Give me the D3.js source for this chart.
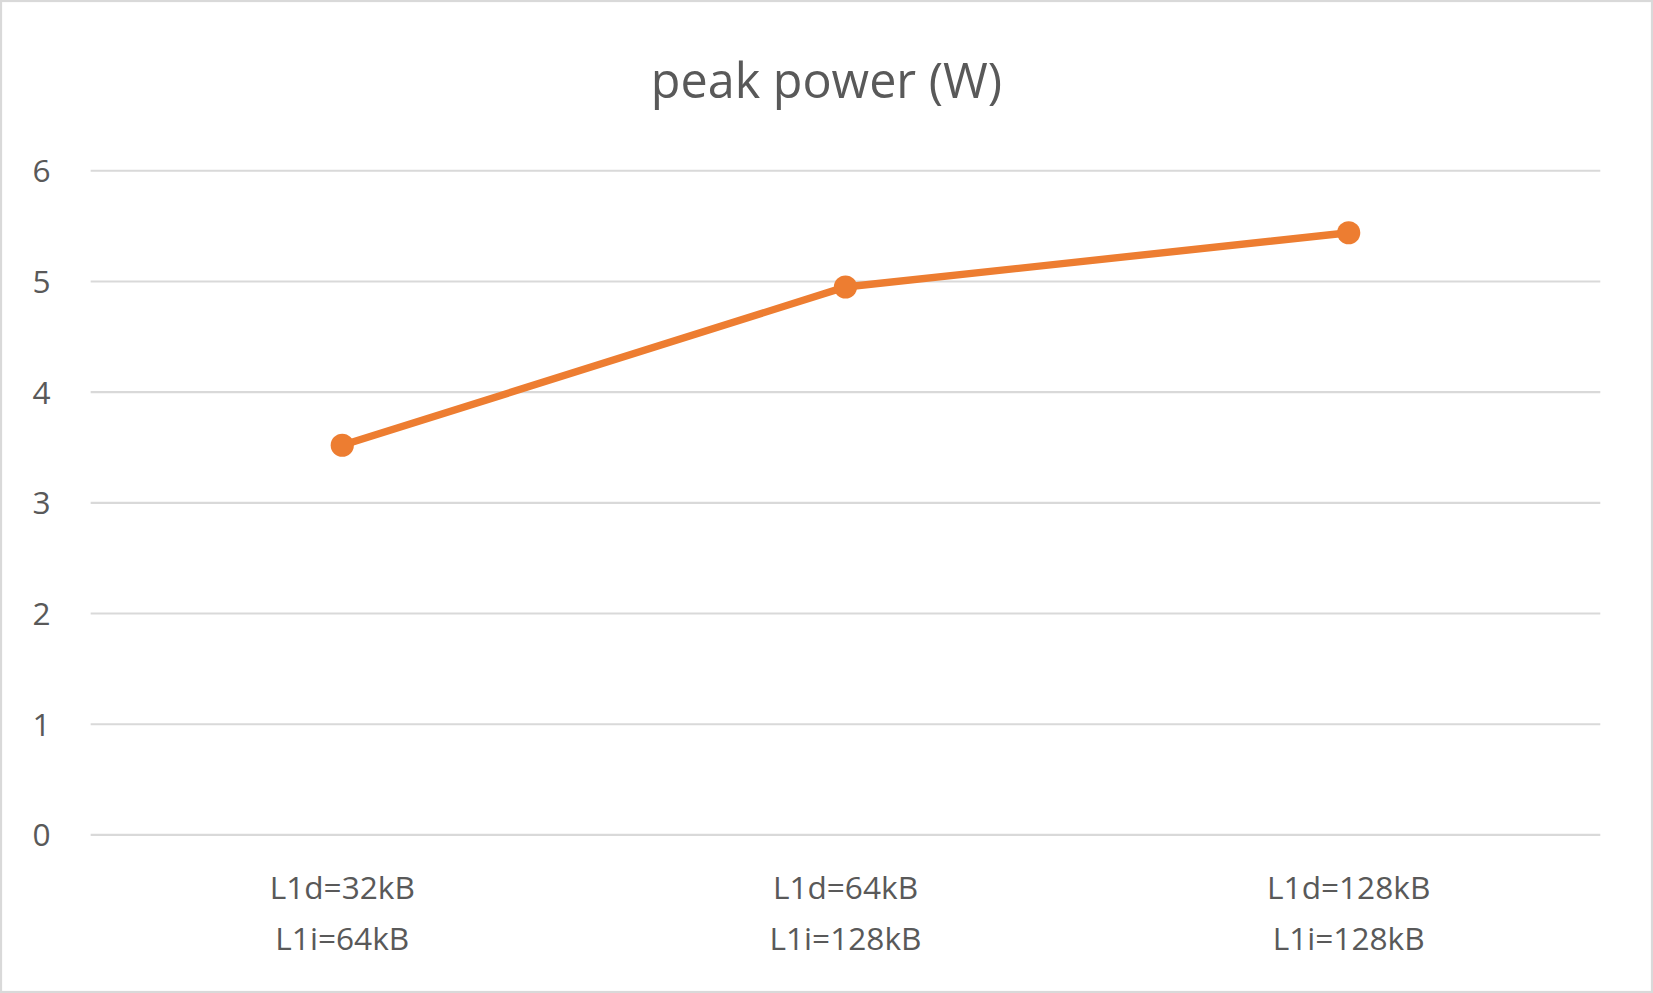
<!DOCTYPE html>
<html><head><meta charset="utf-8">
<script src="https://cdn.jsdelivr.net/npm/d3@7"></script>
<style>body{margin:0;background:#fff;overflow:hidden}</style></head>
<body><svg id="c" width="1653" height="993" viewBox="0 0 1568 942" preserveAspectRatio="none"></svg>
<script>
const categories = [["L1d=32kB","L1i=64kB"],["L1d=64kB","L1i=128kB"],["L1d=128kB","L1i=128kB"]];
const values = [3.52, 4.95, 5.44];
const yTicks = [0,1,2,3,4,5,6];
const title = "peak power (W)";

const svg = d3.select("#c");
const font = "'Open Sans', 'Noto Sans', sans-serif";
svg.append("rect").attr("x",1).attr("y",1).attr("width",1566).attr("height",940)
  .attr("fill","#fff").attr("stroke","#d9d9d9").attr("stroke-width",2);
const x = d3.scaleBand().domain(d3.range(categories.length)).range([86,1518]);
const y = d3.scaleLinear().domain([0,6]).range([792,162]);

svg.append("g").selectAll("line").data(yTicks).join("line")
  .attr("x1",86).attr("x2",1518).attr("y1",d=>y(d)).attr("y2",d=>y(d))
  .attr("stroke","#d9d9d9").attr("stroke-width",2);
svg.append("g").selectAll("text").data(yTicks).join("text")
  .attr("x",48).attr("y",d=>y(d)+11).attr("text-anchor","end")
  .attr("font-family",font).attr("font-size",30).attr("fill","#595959").text(d=>d);
const xl = svg.append("g").selectAll("text").data(categories).join("text")
  .attr("text-anchor","middle").attr("font-family",font).attr("font-size",30).attr("fill","#595959");
xl.each(function(d,i){
  const t=d3.select(this);
  d.forEach((s,j)=>t.append("tspan").attr("x",x(i)+x.bandwidth()/2).attr("y",853+j*48).text(s));
});
svg.append("text").attr("x",784).attr("y",93).attr("text-anchor","middle")
  .attr("font-family",font).attr("font-size",46).attr("fill","#595959").text(title);
const cx = i=>x(i)+x.bandwidth()/2;
svg.append("path").datum(values)
  .attr("d",d3.line().x((d,i)=>cx(i)).y(d=>y(d)))
  .attr("fill","none").attr("stroke","#ed7d31").attr("stroke-width",7).attr("stroke-linecap","round");
svg.append("g").selectAll("circle").data(values).join("circle")
  .attr("cx",(d,i)=>cx(i)).attr("cy",d=>y(d)).attr("r",11).attr("fill","#ed7d31");
</script></body></html>
